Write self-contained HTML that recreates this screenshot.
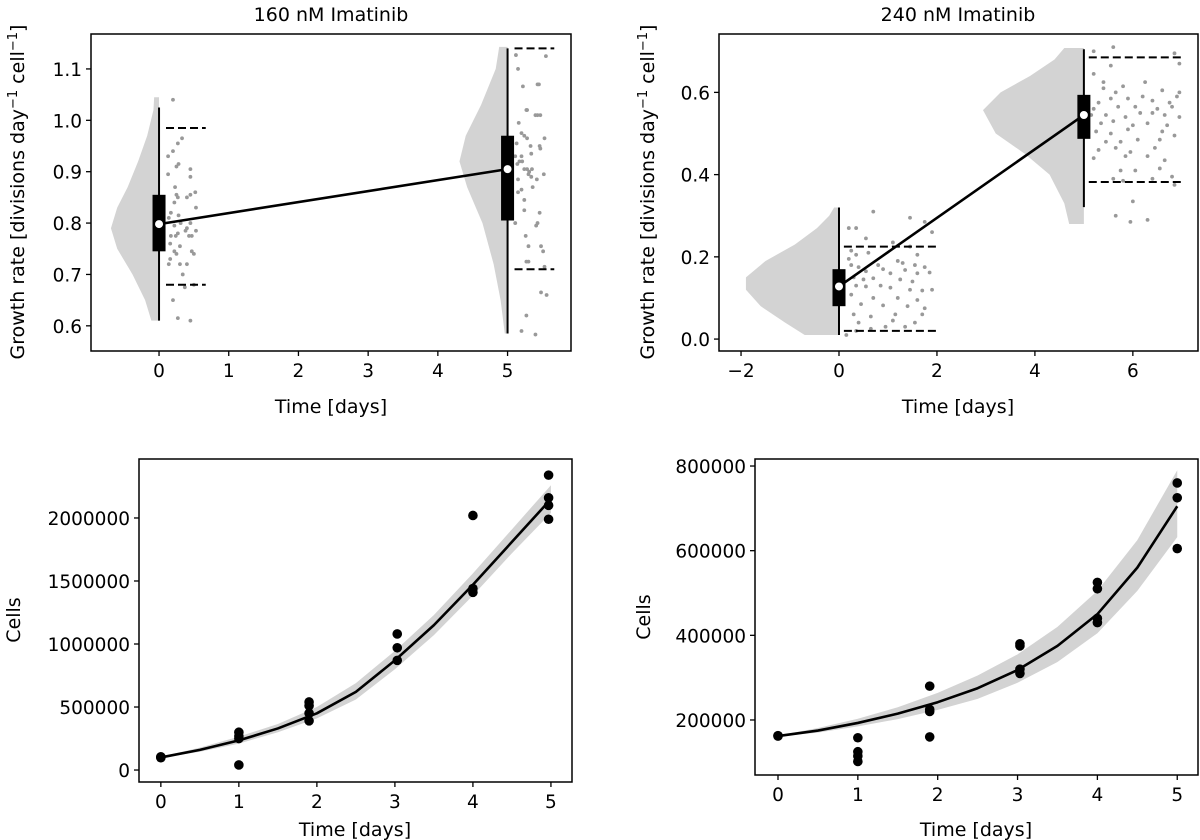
<!DOCTYPE html>
<html><head><meta charset="utf-8">
<style>
html,body{margin:0;padding:0;background:#fff;}
svg{display:block;font-family:"DejaVu Sans","Liberation Sans",sans-serif;}
</style></head>
<body>
<svg id="fig" width="1200" height="840" viewBox="0 0 1200 840" xmlns="http://www.w3.org/2000/svg"></svg>
<script>
// ---------- DATA ----------
const tlTimes = [0, 5];
const tlMedians = [0.798, 0.905];
const tlQ1 = [0.745, 0.805];
const tlQ3 = [0.855, 0.97];
const tlWhiskLo = [0.61, 0.585];
const tlWhiskHi = [1.025, 1.14];
const tlDashLo = [0.68, 0.71];
const tlDashHi = [0.985, 1.14];
const tlViolin0Y = [0.61,0.65,0.70,0.75,0.79,0.83,0.87,0.92,0.97,1.02,1.045];
const tlViolin0W = [0.11,0.2,0.38,0.6,0.69,0.6,0.45,0.3,0.17,0.08,0.07];
const tlViolin5Y = [0.585,0.65,0.72,0.8,0.87,0.92,0.97,1.03,1.1,1.143];
const tlViolin5W = [0.04,0.1,0.2,0.36,0.58,0.69,0.6,0.38,0.17,0.12];
const tlScatter0 = [[0.2,1.04],[0.13,0.93],[0.2,0.94],[0.27,0.955],[0.33,0.965],[0.25,0.91],[0.28,0.915],[0.45,0.905],[0.45,0.89],[0.13,0.895],[0.23,0.87],[0.25,0.855],[0.4,0.85],[0.45,0.855],[0.52,0.86],[0.22,0.84],[0.17,0.82],[0.27,0.85],[0.53,0.83],[0.28,0.815],[0.31,0.8],[0.14,0.81],[0.22,0.795],[0.4,0.79],[0.38,0.785],[0.45,0.8],[0.53,0.785],[0.17,0.775],[0.24,0.775],[0.27,0.78],[0.43,0.775],[0.47,0.775],[0.16,0.76],[0.3,0.755],[0.22,0.745],[0.25,0.74],[0.47,0.745],[0.5,0.74],[0.16,0.73],[0.14,0.72],[0.3,0.72],[0.4,0.72],[0.34,0.70],[0.37,0.675],[0.2,0.65],[0.27,0.615],[0.45,0.61],[0.5,0.68]];
const tlScatter5 = [[0.12,1.127],[0.15,1.1],[0.55,1.125],[0.22,1.066],[0.27,1.02],[0.28,1.02],[0.4,1.01],[0.43,1.01],[0.47,1.01],[0.43,1.07],[0.45,1.07],[0.16,0.995],[0.2,0.975],[0.24,0.97],[0.28,0.965],[0.53,0.965],[0.33,0.95],[0.46,0.95],[0.47,0.945],[0.13,0.955],[0.34,0.935],[0.2,0.93],[0.11,0.93],[0.14,0.915],[0.17,0.92],[0.21,0.92],[0.24,0.905],[0.28,0.905],[0.31,0.9],[0.35,0.905],[0.3,0.895],[0.34,0.89],[0.52,0.895],[0.42,0.885],[0.15,0.885],[0.15,0.86],[0.2,0.865],[0.36,0.87],[0.24,0.845],[0.24,0.825],[0.11,0.8],[0.46,0.82],[0.41,0.795],[0.43,0.8],[0.26,0.775],[0.3,0.755],[0.48,0.755],[0.51,0.745],[0.27,0.725],[0.3,0.725],[0.53,0.715],[0.48,0.665],[0.56,0.66],[0.27,0.62],[0.2,0.59],[0.4,0.583]];

const trTimes = [0, 5];
const trMedians = [0.128, 0.545];
const trQ1 = [0.08, 0.487];
const trQ3 = [0.17, 0.594];
const trWhiskLo = [0.01, 0.321];
const trWhiskHi = [0.32, 0.705];
const trDashLo = [0.02, 0.382];
const trDashHi = [0.225, 0.685];
const trViolin0Y = [0.01,0.04,0.08,0.12,0.15,0.19,0.23,0.27,0.3,0.32];
const trViolin0W = [0.7,1.1,1.6,1.9,1.9,1.5,0.9,0.45,0.2,0.1];
const trViolin5Y = [0.28,0.33,0.4,0.45,0.5,0.557,0.6,0.64,0.68,0.708];
const trViolin5W = [0.3,0.4,0.7,1.2,1.8,2.06,1.7,1.1,0.6,0.4];
const trScatter0 = [[0.7,0.31],[1.45,0.295],[1.75,0.285],[0.2,0.27],[0.35,0.27],[1.9,0.26],[0.55,0.245],[1.1,0.235],[1.45,0.225],[0.25,0.215],[0.35,0.205],[0.6,0.21],[1.6,0.205],[0.2,0.195],[1.2,0.19],[0.25,0.18],[0.4,0.175],[0.8,0.18],[1.3,0.185],[1.55,0.18],[1.75,0.175],[0.55,0.165],[0.9,0.17],[1.05,0.16],[1.35,0.168],[1.6,0.16],[1.85,0.162],[0.3,0.15],[0.5,0.145],[0.7,0.148],[1.25,0.145],[1.5,0.14],[0.35,0.13],[0.55,0.128],[0.85,0.13],[1.05,0.125],[1.45,0.12],[1.7,0.118],[1.9,0.12],[0.25,0.108],[0.7,0.1],[1.2,0.1],[1.6,0.095],[0.45,0.085],[0.9,0.082],[1.4,0.08],[1.75,0.075],[0.3,0.06],[0.65,0.055],[1.15,0.06],[1.7,0.06],[0.4,0.04],[1.1,0.045],[1.55,0.04],[0.95,0.03],[0.35,0.02],[0.65,0.025],[1.35,0.03],[0.15,0.01]];
const trScatter5 = [[0.6,0.71],[0.2,0.7],[1.85,0.695],[0.55,0.665],[1.95,0.67],[0.2,0.645],[0.4,0.625],[0.8,0.615],[1.25,0.625],[0.4,0.61],[0.65,0.6],[1.6,0.605],[1.95,0.6],[0.3,0.575],[0.55,0.585],[0.9,0.585],[1.2,0.59],[1.4,0.58],[1.75,0.575],[1.9,0.59],[0.2,0.56],[0.7,0.565],[1.05,0.565],[1.5,0.56],[1.8,0.565],[0.15,0.545],[0.45,0.545],[0.85,0.54],[1.15,0.55],[1.4,0.55],[1.65,0.545],[1.95,0.54],[0.35,0.525],[0.6,0.53],[1.0,0.52],[1.3,0.525],[1.7,0.52],[0.25,0.505],[0.55,0.5],[0.9,0.51],[1.6,0.505],[1.85,0.495],[0.45,0.48],[0.75,0.48],[1.1,0.485],[1.55,0.485],[0.3,0.46],[0.65,0.465],[0.95,0.455],[1.45,0.465],[0.2,0.44],[0.85,0.445],[1.3,0.445],[1.65,0.435],[0.75,0.41],[1.05,0.41],[1.55,0.415],[0.6,0.39],[0.8,0.385],[1.4,0.39],[1.8,0.395],[1.85,0.375],[1.0,0.335],[0.65,0.3],[0.95,0.285],[1.3,0.29]];

const blObsT = [0,0,0,1,1,1,1,1.9,1.9,1.9,1.9,3.03,3.03,3.03,4,4,4,4.97,4.97,4.97,4.97];
const blObsC = [100000,105000,98000,300000,250000,270000,40000,540000,510000,450000,390000,1080000,970000,870000,2020000,1440000,1410000,2340000,2160000,2100000,1990000];
const blFitT = [0,0.5,1,1.5,2,2.5,3,3.5,4,4.5,5];
const blFitMid = [100000,160000,235000,330000,450000,620000,870000,1150000,1470000,1810000,2150000];
const blFitHi = [105000,178000,265000,365000,500000,690000,945000,1230000,1560000,1910000,2260000];
const blFitLo = [95000,145000,210000,300000,410000,560000,800000,1070000,1385000,1720000,2040000];
const blXTicks = [0,1,2,3,4,5];
const blYTicks = [0,500000,1000000,1500000,2000000];

const brObsT = [0,0,1,1,1,1,1.9,1.9,1.9,1.9,3.03,3.03,3.03,3.03,4,4,4,4,5,5,5];
const brObsC = [162000,163000,158000,125000,115000,102000,280000,225000,220000,160000,380000,375000,320000,310000,525000,510000,440000,430000,760000,725000,605000];
const brFitT = [0,0.5,1,1.5,2,2.5,3,3.5,4,4.5,5];
const brFitMid = [162000,175000,193000,215000,242000,275000,318000,375000,450000,560000,705000];
const brFitHi = [163000,181000,203000,230000,264000,305000,355000,420000,505000,625000,790000];
const brFitLo = [161000,170000,185000,202000,224000,250000,288000,337000,405000,505000,632000];
const brXTicks = [0,1,2,3,4,5];
const brYTicks = [200000,400000,600000,800000];

const tlXTicks = [0,1,2,3,4,5];
const tlYTicks = [0.6,0.7,0.8,0.9,1.0,1.1];
const trXTicks = [-2,0,2,4,6];
const trYTicks = [0.0,0.2,0.4,0.6];

// ---------- RENDER ----------
const NS = "http://www.w3.org/2000/svg";
const svg = document.getElementById('fig');
function mk(tag, attrs, parent) {
  const e = document.createElementNS(NS, tag);
  for (const k in attrs) e.setAttribute(k, attrs[k]);
  (parent || svg).appendChild(e);
  return e;
}
function scale(d0, d1, p0, p1) { return v => p0 + (v - d0) / (d1 - d0) * (p1 - p0); }

function axesFrame(g, box, xs, ys, xt, yt, xfmt, yfmt, pfx) {
  for (const t of xt) {
    const px = xs(t);
    const tk = mk('line', {x1: px, x2: px, y1: box.b, y2: box.b + 5, stroke: '#000', 'stroke-width': 1.3}, g);
    
    
    const lb = mk('text', {x: px, y: box.b + 26, 'text-anchor': 'middle', 'font-size': 18.5}, g);
    lb.textContent = xfmt(t);
    
    
  }
  for (const t of yt) {
    const py = ys(t);
    const tk = mk('line', {x1: box.l - 5, x2: box.l, y1: py, y2: py, stroke: '#000', 'stroke-width': 1.3}, g);
    
    
    const lb = mk('text', {x: box.l - 9, y: py + 7, 'text-anchor': 'end', 'font-size': 18.5}, g);
    lb.textContent = yfmt(t);
    
    
  }
  const fr = mk('rect', {x: box.l, y: box.t, width: box.r - box.l, height: box.b - box.t, fill: 'none', stroke: '#000', 'stroke-width': 1.5}, g);
  
  
}

function violinPanel(pfx, box, xd, yd, d) {
  const g = mk('g', {});
  
  
  const xs = scale(xd[0], xd[1], box.l, box.r), ys = scale(yd[0], yd[1], box.b, box.t);
  const clipId = pfx + '-clip';
  const cp = mk('clipPath', {id: clipId}, g);
  mk('rect', {x: box.l, y: box.t, width: box.r - box.l, height: box.b - box.t}, cp);
  const pg = mk('g', {'clip-path': 'url(#' + clipId + ')'}, g);
  for (let i = 0; i < d.times.length; i++) {
    const t = d.times[i];
    const VY = d.vy[i], VW = d.vw[i];
    let pts = VY.map((y, j) => (xs(t - VW[j])) + ',' + ys(y));
    pts = [xs(t) + ',' + ys(VY[VY.length - 1])].concat(pts.reverse(), [xs(t) + ',' + ys(VY[0])]);
    const vio = mk('polygon', {points: pts.join(' '), fill: '#d3d3d3', 'stroke-linejoin': 'round'}, pg);
    
    
    for (const p of d.sc[i]) {
      const c = mk('circle', {cx: xs(t + p[0]), cy: ys(p[1]), r: 1.9, fill: '#999'}, pg);
      
      
    }
    for (const dv of [d.dlo[i], d.dhi[i]]) {
      const dl = mk('line', {x1: xs(t + 0.1), x2: xs(t + d.spread), y1: ys(dv), y2: ys(dv), stroke: '#000', 'stroke-width': 2, 'stroke-dasharray': '8,4'}, pg);
      
      
    }
    const wh = mk('line', {x1: xs(t), x2: xs(t), y1: ys(d.wlo[i]), y2: ys(d.whi[i]), stroke: '#000', 'stroke-width': 2}, pg);
    
    
    const bx = mk('rect', {x: xs(t) - 6.5, y: ys(d.q3[i]), width: 13, height: ys(d.q1[i]) - ys(d.q3[i]), fill: '#000'}, pg);
    
    
  }
  const ml = mk('line', {x1: xs(d.times[0]), y1: ys(d.med[0]), x2: xs(d.times[1]), y2: ys(d.med[1]), stroke: '#000', 'stroke-width': 2.6}, pg);
  
  
  for (let i = 0; i < d.times.length; i++) {
    const md = mk('circle', {cx: xs(d.times[i]), cy: ys(d.med[i]), r: 4.5, fill: '#fff', stroke: '#000', 'stroke-width': 1}, pg);
    
    
  }
  axesFrame(g, box, xs, ys, d.xt, d.yt, v => (v < 0 ? '\u2212' + Math.abs(v) : String(v)), v => v.toFixed(1), pfx);
  return g;
}

function cellPanel(pfx, box, xd, yd, d) {
  const g = mk('g', {});
  
  
  const xs = scale(xd[0], xd[1], box.l, box.r), ys = scale(yd[0], yd[1], box.b, box.t);
  const up = d.ft.map((t, i) => xs(t) + ',' + ys(d.hi[i]));
  const lo = d.ft.map((t, i) => xs(t) + ',' + ys(d.lo[i])).reverse();
  const band = mk('polygon', {points: up.concat(lo).join(' '), fill: '#d3d3d3'}, g);
  
  
  const fit = mk('polyline', {points: d.ft.map((t, i) => xs(t) + ',' + ys(d.mid[i])).join(' '), fill: 'none', stroke: '#000', 'stroke-width': 2.6, 'stroke-linejoin': 'round'}, g);
  
  
  for (let i = 0; i < d.ot.length; i++) {
    const c = mk('circle', {cx: xs(d.ot[i]), cy: ys(d.oc[i]), r: 4.8, fill: '#000'}, g);
    
    
  }
  axesFrame(g, box, xs, ys, d.xt, d.yt, v => String(v), v => String(v), pfx);
  return g;
}

violinPanel('tl', {l: 91, r: 571, t: 34, b: 351}, [-0.976, 5.91], [0.551, 1.168], {
  times: tlTimes, med: tlMedians, q1: tlQ1, q3: tlQ3, wlo: tlWhiskLo, whi: tlWhiskHi, dlo: tlDashLo, dhi: tlDashHi,
  vy: [tlViolin0Y, tlViolin5Y], vw: [tlViolin0W, tlViolin5W], sc: [tlScatter0, tlScatter5], spread: 0.67, xt: tlXTicks, yt: tlYTicks});
violinPanel('tr', {l: 719, r: 1198, t: 34, b: 351}, [-2.45, 7.33], [-0.029, 0.742], {
  times: trTimes, med: trMedians, q1: trQ1, q3: trQ3, wlo: trWhiskLo, whi: trWhiskHi, dlo: trDashLo, dhi: trDashHi,
  vy: [trViolin0Y, trViolin5Y], vw: [trViolin0W, trViolin5W], sc: [trScatter0, trScatter5], spread: 2.0, xt: trXTicks, yt: trYTicks});
cellPanel('bl', {l: 139, r: 572, t: 459, b: 782}, [-0.28, 5.27], [-95000, 2468000], {
  ot: blObsT, oc: blObsC, ft: blFitT, mid: blFitMid, hi: blFitHi, lo: blFitLo, xt: blXTicks, yt: blYTicks});
cellPanel('br', {l: 755, r: 1198, t: 459, b: 775}, [-0.288, 5.26], [70000, 816600], {
  ot: brObsT, oc: brObsC, ft: brFitT, mid: brFitMid, hi: brFitHi, lo: brFitLo, xt: brXTicks, yt: brYTicks});

function label(txt, x, y, rot, name, size) {
  const t = mk('text', {x: x, y: y, 'text-anchor': 'middle', 'font-size': size || 19});
  if (rot) t.setAttribute('transform', 'rotate(-90 ' + x + ' ' + y + ')');
  t.textContent = txt;
  
  
  return t;
}
label('160 nM Imatinib', 331, 21, false, 'title-160nm');
label('240 nM Imatinib', 958, 21, false, 'title-240nm');
label('Time [days]', 331, 413, false, 'tl-x-axis-title');
label('Time [days]', 958, 413, false, 'tr-x-axis-title');
label('Time [days]', 355, 836, false, 'bl-x-axis-title');
label('Time [days]', 976, 836, false, 'br-x-axis-title');
label('Cells', 20, 620, true, 'bl-y-axis-title');
label('Cells', 650, 617, true, 'br-y-axis-title');
function growthLabel(x, y, name) {
  const t = mk('text', {x: x, y: y, 'text-anchor': 'middle', 'font-size': 19, transform: 'rotate(-90 ' + x + ' ' + y + ')'});
  
  
  const parts = [['Growth rate [divisions day', 0], ['\u22121', 1], [' cell', 0], ['\u22121', 1], [']', 0]];
  for (const p of parts) {
    const s = mk('tspan', {}, t);
    if (p[1]) { s.setAttribute('baseline-shift', 'super'); s.setAttribute('font-size', '13'); }
    s.textContent = p[0];
  }
}
growthLabel(24, 192, 'tl-y-axis-title');
growthLabel(654, 192, 'tr-y-axis-title');
</script>
</body></html>
